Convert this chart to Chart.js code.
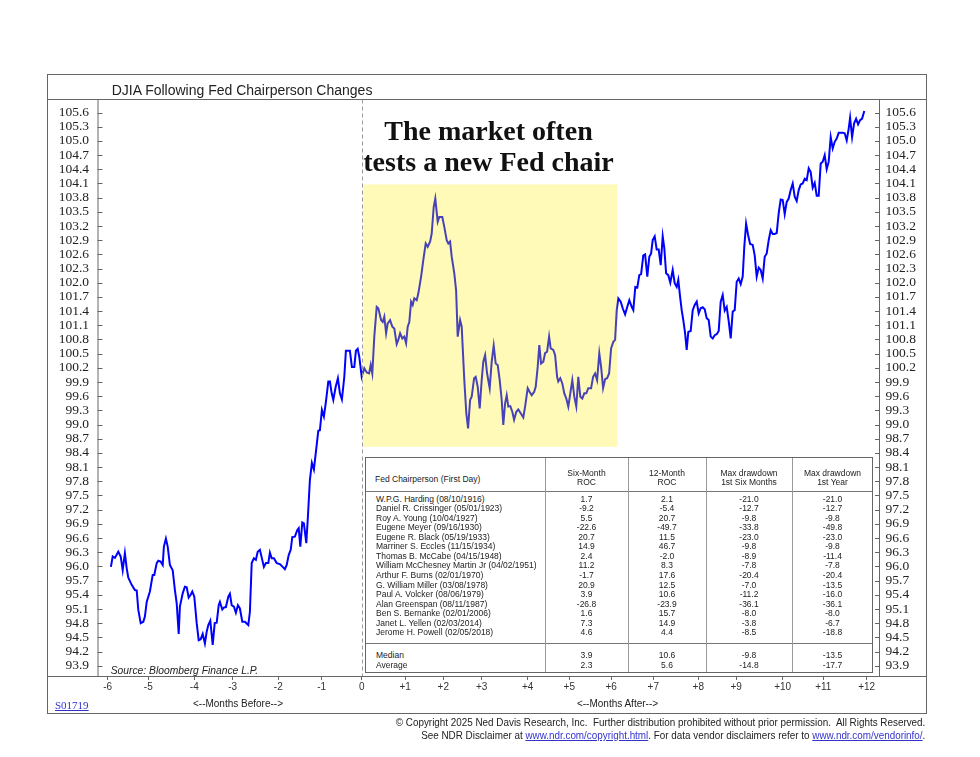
<!DOCTYPE html>
<html>
<head>
<meta charset="utf-8">
<script src="https://cdn.jsdelivr.net/npm/chart.js@4"></script>
<style>
  body { margin: 0; background: #fff; }
  #wrap { position: relative; width: 980px; height: 757px; font-family: 'Liberation Sans', Arial, sans-serif; color: #222; }
  #c { position: absolute; left: 0; top: 0; }
  .lbl { position: absolute; white-space: nowrap; }
  .lnk { color: #3333cc; text-decoration: underline; }
  .foot { right: 55px; font-size: 10.5px; line-height: 12px; transform: scaleX(0.94); transform-origin: right center; }
  #tbl { position: absolute; left: 365px; top: 457px; width: 508px; height: 216px; box-sizing: border-box; border: 1px solid #666; background: #fff; font-size: 8.5px; }
  #tbl .t { position: absolute; white-space: nowrap; line-height: 10px; }
  #tbl .hl { position: absolute; left: 0; right: 0; height: 0; border-top: 1px solid #777; }
  #tbl .vl { position: absolute; top: 0; bottom: 0; width: 0; border-left: 1px solid #999; }
</style>
</head>
<body>
<div id="wrap">
  <canvas id="c" width="980" height="757"></canvas>
  <div class="lbl" style="left:111.7px;top:82px;font-size:14px;line-height:16px;color:#222">DJIA Following Fed Chairperson Changes</div>
  <div class="lbl" style="left:338.5px;width:300px;top:115px;text-align:center;font:bold 28px/31px 'Liberation Serif','Times New Roman',serif;color:#111">The market often<br>tests a new Fed chair</div>
  <div class="lbl" style="left:110.7px;top:664.5px;font-size:10.3px;line-height:12px;font-style:italic;color:#222">Source: Bloomberg Finance L.P.</div>
  <div class="lbl" style="left:168px;width:140px;top:697.5px;text-align:center;font-size:10px;line-height:12px">&lt;--Months Before--&gt;</div>
  <div class="lbl" style="left:547.5px;width:140px;top:697.5px;text-align:center;font-size:10px;line-height:12px">&lt;--Months After--&gt;</div>
  <div class="lbl lnk" style="left:55px;top:699px;font:11px/12px 'Liberation Serif','Times New Roman',serif">S01719</div>
  <div class="lbl foot" style="top:716px">© Copyright 2025 Ned Davis Research, Inc.&nbsp; Further distribution prohibited without prior permission.&nbsp; All Rights Reserved.</div>
  <div class="lbl foot" style="top:729px">See NDR Disclaimer at <span class="lnk">www.ndr.com/copyright.html</span>. For data vendor disclaimers refer to <span class="lnk">www.ndr.com/vendorinfo/</span>.</div>
  <div id="tbl"></div>
</div>
<script>
// trading days relative to the new chair's first day
const dayOffsets = [
  -125.4,-124.5,-123.4,-121.7,-120.5,-119.5,-118.4,-117.5,-116.7,-115,
  -113.4,-112.5,-111.7,-110.5,-109.2,-108.4,-107.5,-105.9,-104.5,-103.7,
  -102.5,-101.7,-100.5,-99.5,-98.9,-97.9,-97,-95.9,-94.5,-93.4,
  -92.5,-91.5,-90.9,-89.5,-88.4,-87.5,-86.5,-85.5,-84.7,-83.7,
  -82.5,-81.5,-80.5,-79.5,-78.4,-77.5,-76.7,-75.7,-74.5,-73.5,
  -72.5,-71.5,-70.9,-69.7,-68.9,-67.9,-66.7,-65.9,-65,-63.9,
  -62.9,-61.9,-60.9,-59.7,-58.4,-56.7,-55.9,-55,-53.9,-52.9,
  -52,-50.9,-49.9,-48.9,-47.9,-46.7,-45.9,-45,-43.9,-42.5,
  -40.9,-39.5,-38.4,-37.5,-36.5,-35.5,-34.7,-33.4,-32.2,-31.5,
  -30.7,-29.7,-28.9,-27.7,-26.9,-25.9,-24.9,-23.9,-22.5,-21.7,
  -20.9,-19.9,-18.9,-17.9,-16.7,-15.9,-15,-14.2,-13,-11.9,
  -10.9,-9.9,-8.7,-7.9,-6.5,-5.9,-4.9,-3.7,-2.9,-2,
  -1.2,
  0,1.3,2.5,3.7,4.5,5.3,6.3,7.5,8.3,9.7,
  10.5,11.3,12.2,13,14.2,15.3,16.3,17.5,18.3,19.2,
  20.3,21.3,22.2,23,23.8,24.7,25.5,26.3,27.5,28.3,
  29.7,30.8,32,33,34.2,35,36,36.8,38,38.8,
  40.3,41.3,42.5,43.3,44.2,45,46.3,47.2,48,49.2,
  50,51.3,52.3,53.2,54.2,55,56.2,57,58,59,
  60,60.8,61.7,62.7,64,65,66,67,68,69,
  70,70.8,71.7,72.5,73.3,74.3,75.3,76.2,77.3,78.3,
  79.5,80.8,81.7,83,84,85,86.2,87,88,88.8,
  89.7,90.8,91.7,92.7,93.7,94.5,95.8,96.7,97.7,98.3,
  99.3,100.3,101.3,102.3,103.3,104.3,105.3,106.3,107.3,108.3,
  109.3,110.3,111.3,112.3,113.3,114.7,115.7,116.7,117.7,118.8,
  119.7,120.7,121.7,122.7,123.7,124.7,125.8,126.7,127.5,128.3,
  129.5,
  130.5,131.7,132.8,133.8,135,135.8,136.8,137.8,138.8,139.7,
  140.8,141.7,142.8,143.8,144.7,145.5,146.5,147.5,148.5,149.5,
  150.5,151.3,152.2,153.3,154.3,155.5,156.5,157.5,158.3,159.2,
  160,160.8,161.7,162.5,163.3,164.5,165.5,166.5,167.5,168.5,
  169.5,170.5,171.5,172.5,173.5,174.5,175.5,176.5,177.5,178.5,
  179.5,180.5,181.5,182.5,183.5,184.5,185.5,186.5,187.5,188.5,
  189.5,190.5,191.3,192.2,193.2,194.2,195.5,196.5,197.5,198.5,
  199.5,200.5,201.5,202.5,203.5,204.5,205.5,206.5,207.5,208.5,
  209.5,210.5,211.5,212.5,213.5,214.5,215.5,216.5,217.5,218.5,
  219.5,220.5,221.5,222.5,223.5,224.5,225.5,226.5,227.5,228.5,
  229.5,230.5,231.5,232.5,233.5,234.5,235.5,236.5,237.5,238.5,
  239.5,240.5,241.5,242.5,243.5,244.2,245.2,246.2,247.2,248.2,
  249.2,250.2,251.3
];

// DJIA composite, indexed to 100 on day 0
const djiaLevel = [
  95.99,96.21,96.18,96.31,96.21,95.92,96.28,95.96,95.76,95.61,
  95.50,95.49,95.08,94.80,94.83,94.94,95.25,95.47,95.82,95.82,
  96.07,96.12,96.10,96.03,96.42,96.59,96.42,96.03,95.92,95.50,
  95.22,94.57,95.15,95.43,95.57,95.56,95.34,95.40,95.47,95.36,
  94.80,94.44,94.46,94.57,94.37,94.62,94.76,94.85,94.34,94.80,
  94.81,95.18,95.25,95.09,95.13,95.14,95.36,95.42,95.18,95.15,
  95.02,95.18,95.11,94.83,94.83,94.76,95.04,96.07,96.17,96.14,
  96.31,96.35,96.17,95.99,96.07,96.07,96.29,96.17,96.17,96.07,
  96.05,95.99,95.94,96.03,96.24,96.35,96.62,96.63,96.77,96.81,
  96.42,96.93,96.91,96.49,97.05,97.83,98.19,98.05,98.57,98.87,
  98.88,99.31,99.17,99.48,99.91,99.91,99.66,99.52,99.80,99.98,
  99.66,99.53,100.01,100.56,100.56,100.56,100.22,100.22,100.56,100.60,
  100.43,
  100.01,100.19,100.10,100.08,100.26,100.08,100.86,101.49,101.46,101.21,
  101.17,101.28,100.93,101.14,101.21,101.07,101.03,100.70,100.79,100.93,
  100.82,100.86,100.72,101.07,101.17,101.60,101.53,101.67,101.63,101.77,
  102.13,102.48,102.83,102.76,102.87,103.04,103.60,103.78,103.29,103.39,
  103.39,103.18,102.90,102.83,102.87,102.55,102.20,101.84,100.86,101.21,
  101.07,99.94,99.24,98.92,99.52,99.59,99.98,100.01,99.80,99.34,
  99.94,100.33,100.47,100.08,99.77,100.33,100.67,100.29,100.26,99.94,
  99.52,98.99,99.45,99.62,99.38,99.39,99.27,99.10,99.27,99.32,
  99.24,99.15,99.38,99.77,99.69,99.62,99.69,99.80,100.22,100.68,
  100.29,100.33,100.51,100.54,100.86,100.61,100.58,100.47,100.01,99.91,
  99.98,99.87,99.66,99.55,99.38,99.66,99.94,99.59,99.38,100.01,
  99.59,99.55,99.66,99.66,99.77,99.77,100.01,100.08,99.94,100.51,
  100.22,99.77,99.96,99.98,100.08,100.61,100.75,100.79,101.42,101.67,
  101.60,
  101.46,101.33,101.49,101.63,101.49,101.42,101.91,101.90,102.16,102.18,
  102.58,102.60,102.13,102.55,102.62,102.90,102.98,102.70,102.70,102.37,
  102.98,102.73,102.20,102.16,102.00,102.27,101.99,101.91,102.06,101.70,
  101.42,101.21,100.93,100.58,100.96,100.98,101.42,101.53,101.60,101.35,
  101.46,101.48,101.44,101.25,101.21,100.86,100.82,100.89,100.91,100.98,
  101.60,101.74,101.41,101.49,101.19,100.82,101.39,101.42,102.02,102.09,
  101.97,102.13,102.76,103.25,103.01,102.82,102.80,102.58,102.13,102.32,
  102.27,102.09,102.55,102.62,102.90,103.11,103.03,103.03,103.05,103.47,
  103.76,103.75,103.45,103.71,103.78,103.96,104.10,103.82,103.73,103.96,
  104.08,104.10,104.20,104.17,104.42,104.34,104.01,104.11,103.84,103.84,
  104.52,104.56,104.70,104.40,104.56,105.08,104.84,104.98,105.05,105.17,
  105.17,105.17,105.16,105.01,105.26,105.49,105.08,105.37,105.47,105.35,
  105.44,105.47,105.63
];

const yTicks = [93.9,94.2,94.5,94.8,95.1,95.4,95.7,96.0,96.3,96.6,96.9,97.2,97.5,97.8,98.1,98.4,98.7,99.0,99.3,99.6,
  99.9,100.2,100.5,100.8,101.1,101.4,101.7,102.0,102.3,102.6,102.9,103.2,103.5,103.8,104.1,104.4,104.7,105.0,105.3,105.6];
const xTickDays = [-127,-106.7,-83.7,-64.5,-41.7,-20,0,21.7,40.8,60,83,103.8,124.7,145.8,168.3,187.2,210.5,230.8,252.5];
const xTickLabels = ['-6','-5','-4','-3','-2','-1','0','+1','+2','+3','+4','+5','+6','+7','+8','+9','+10','+11','+12'];

// highlighted "test" window
const testWindow = { x0: 0.7, x1: 127.9, y0: 98.53, y1: 104.08 };

// table
const chairNames = ['W.P.G. Harding (08/10/1916)','Daniel R. Crissinger (05/01/1923)','Roy A. Young (10/04/1927)',
  'Eugene Meyer (09/16/1930)','Eugene R. Black (05/19/1933)','Marriner S. Eccles (11/15/1934)','Thomas B. McCabe (04/15/1948)',
  'William McChesney Martin Jr (04/02/1951)','Arthur F. Burns (02/01/1970)','G. William Miller (03/08/1978)',
  'Paul A. Volcker (08/06/1979)','Alan Greenspan (08/11/1987)','Ben S. Bernanke (02/01/2006)','Janet L. Yellen (02/03/2014)',
  'Jerome H. Powell (02/05/2018)'];
const sixMonthRoc = [1.7,-9.2,5.5,-22.6,20.7,14.9,2.4,11.2,-1.7,20.9,3.9,-26.8,1.6,7.3,4.6];
const twelveMonthRoc = [2.1,-5.4,20.7,-49.7,11.5,46.7,-2.0,8.3,17.6,12.5,10.6,-23.9,15.7,14.9,4.4];
const maxDdSixMonths = [-21.0,-12.7,-9.8,-33.8,-23.0,-9.8,-8.9,-7.8,-20.4,-7.0,-11.2,-36.1,-8.0,-3.8,-8.5];
const maxDdFirstYear = [-21.0,-12.7,-9.8,-49.8,-23.0,-9.8,-11.4,-7.8,-20.4,-13.5,-16.0,-36.1,-8.0,-6.7,-18.8];
const summaryNames = ['Median','Average'];
const summaryRows = [[3.9,10.6,-9.8,-13.5],[2.3,5.6,-14.8,-17.7]];
const columnHeads = [['Six-Month','ROC'],['12-Month','ROC'],['Max drawdown','1st Six Months'],['Max drawdown','1st Year']];

function buildTable() {
  const el = document.getElementById('tbl');
  const colEdges = [180, 263, 341, 427, 508];
  const add = (html, cls, style) => {
    const d = document.createElement('div');
    d.className = cls; d.style.cssText = style; d.innerHTML = html; el.appendChild(d);
  };
  add('', 'hl', 'top:33px');
  add('', 'hl', 'top:185px');
  colEdges.slice(0, 4).forEach(x => add('', 'vl', 'left:' + (x - 1) + 'px'));
  const centers = colEdges.slice(0, 4).map((x, i) => (x + colEdges[i + 1]) / 2 - 1);
  const cell = (txt, cx, cy) => add(txt, 't', 'left:' + (cx - 50) + 'px;width:100px;text-align:center;top:' + (cy - 5) + 'px');
  add('Fed Chairperson (First Day)', 't', 'left:9px;top:' + (21 - 5) + 'px');
  columnHeads.forEach((h, i) => { cell(h[0], centers[i], 15); cell(h[1], centers[i], 24); });
  chairNames.forEach((name, r) => {
    const cy = 40.5 + r * 9.57;
    add(name, 't', 'left:10px;top:' + (cy - 5) + 'px');
    [sixMonthRoc, twelveMonthRoc, maxDdSixMonths, maxDdFirstYear].forEach((col, i) => cell(col[r].toFixed(1), centers[i], cy));
  });
  summaryNames.forEach((name, r) => {
    const cy = 197 + r * 10;
    add(name, 't', 'left:10px;top:' + (cy - 5) + 'px');
    summaryRows[r].forEach((v, i) => cell(v.toFixed(1), centers[i], cy));
  });
}
buildTable();

const framePlugin = {
  id: 'frame',
  afterDatasetsDraw(chart) {
    const { ctx, scales: { x, y } } = chart;
    const l = x.getPixelForValue(testWindow.x0), r = x.getPixelForValue(testWindow.x1);
    const t = y.getPixelForValue(testWindow.y1), b = y.getPixelForValue(testWindow.y0);
    ctx.save();
    ctx.fillStyle = 'rgba(255,237,0,0.28)';
    ctx.fillRect(l, t, r - l, b - t);
    ctx.restore();
  },
  afterDraw(chart) {
    const { ctx, chartArea: a, scales: { x, y } } = chart;
    ctx.save();
    ctx.strokeStyle = '#666';
    ctx.lineWidth = 1;
    ctx.strokeRect(47.5, 74.5, 879, 639);
    ctx.beginPath();
    ctx.moveTo(47, 99.5); ctx.lineTo(927, 99.5);
    ctx.moveTo(a.left + 0.5, a.top); ctx.lineTo(a.left + 0.5, a.bottom);
    ctx.moveTo(a.right + 0.5, a.top); ctx.lineTo(a.right + 0.5, a.bottom);
    ctx.moveTo(47, a.bottom + 0.5); ctx.lineTo(927, a.bottom + 0.5);
    ctx.stroke();
    ctx.beginPath();
    yTicks.forEach(v => {
      const py = Math.round(y.getPixelForValue(v)) + 0.5;
      ctx.moveTo(a.left, py); ctx.lineTo(a.left + 5, py);
      ctx.moveTo(a.right - 4, py); ctx.lineTo(a.right + 1, py);
    });
    ctx.stroke();
    const zx = Math.round(x.getPixelForValue(0.3)) + 0.5;
    ctx.strokeStyle = '#999';
    ctx.setLineDash([4, 3]);
    ctx.beginPath();
    ctx.moveTo(zx, a.top); ctx.lineTo(zx, a.bottom);
    ctx.stroke();
    ctx.restore();
  }
};

const serif = { family: "'Liberation Serif', 'Times New Roman', serif", size: 13.5 };
const yAxis = (pos, w, pad) => ({
  position: pos,
  min: 93.682, max: 105.875,
  afterBuildTicks: s => { s.ticks = yTicks.map(v => ({ value: v })); },
  afterFit: s => { s.width = w; },
  ticks: { font: serif, color: '#222', padding: pad, autoSkip: false, callback: v => v.toFixed(1) },
  grid: { display: false, drawTicks: false, tickLength: 0 },
  border: { display: false }
});

new Chart(document.getElementById('c'), {
  type: 'line',
  data: {
    datasets: [{
      data: dayOffsets.map((d, i) => ({ x: d, y: djiaLevel[i] })),
      borderColor: '#0000ff',
      borderWidth: 2,
      pointRadius: 0,
      tension: 0
    }]
  },
  options: {
    responsive: false,
    animation: false,
    layout: { padding: { left: 47, right: 53, top: 99.5, bottom: 43 } },
    plugins: { legend: { display: false }, tooltip: { enabled: false } },
    scales: {
      x: {
        type: 'linear',
        min: -132.1, max: 258.65,
        afterBuildTicks: s => { s.ticks = xTickDays.map(v => ({ value: v })); },
        afterFit: s => { s.height = 38; },
        ticks: { font: { family: "'Liberation Sans', Arial, sans-serif", size: 10 }, color: '#333', padding: 1, maxRotation: 0, autoSkip: false,
          callback: (v, i) => xTickLabels[i] },
        grid: { drawOnChartArea: false, tickLength: 4, color: '#666' },
        border: { display: false }
      },
      y: yAxis('left', 50.5, 8.5),
      y2: yAxis('right', 48, 6.5)
    }
  },
  plugins: [framePlugin]
});
</script>
</body>
</html>
